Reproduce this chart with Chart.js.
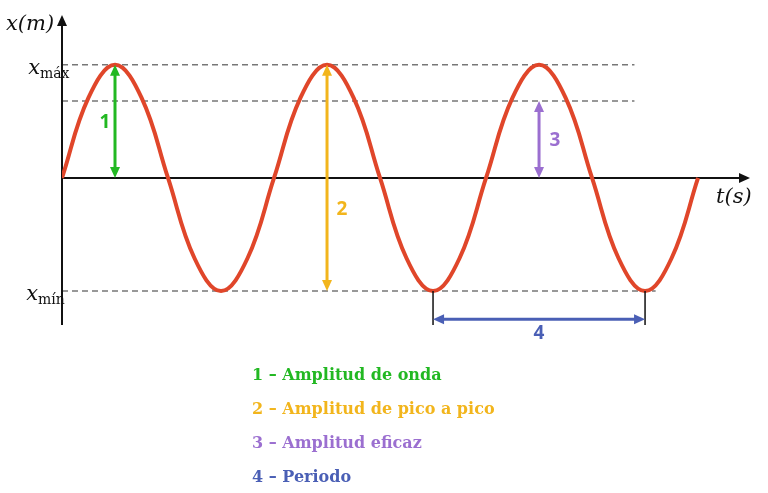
<!DOCTYPE html>
<html>
<head>
<meta charset="utf-8">
<script src="https://cdn.jsdelivr.net/npm/chart.js@4"></script>
<style>
  body { margin: 0; background: #fff; }
  #wrap { position: relative; width: 768px; height: 493px; }
  #legend { position: absolute; left: 252px; top: 358px; font: bold 16px "DejaVu Serif", serif; line-height: 34px; }
</style>
</head>
<body>
<div id="wrap">
  <canvas id="chart" width="768" height="493"></canvas>
  <div id="legend">
    <div style="color:#22b822">1 – Amplitud de onda</div>
    <div style="color:#f2b51c">2 – Amplitud de pico a pico</div>
    <div style="color:#9b6fd0">3 – Amplitud eficaz</div>
    <div style="color:#4a5fb5">4 – Periodo</div>
  </div>
</div>
<script>
// wave samples every eighth of a period (x in quarter periods)
const times = [0,0.5,1,1.5,2,2.5,3,3.5,4,4.5,5,5.5,6,6.5,7,7.5,8,8.5,9,9.5,10,10.5,11,11.5,12];
const wave  = [0,0.71,1,0.71,0,-0.71,-1,-0.71,0,0.71,1,0.71,0,-0.71,-1,-0.71,0,0.71,1,0.71,0,-0.71,-1,-0.71,0];
const xMax = 1, xMin = -1, xRms = 0.68;
const amplitudeAt = 1, peakToPeakAt = 5, rmsAt = 9;
const periodFrom = 7, periodTo = 11;

const RED = "#e0462a", GREEN = "#22b822", YELLOW = "#f2b51c", PURPLE = "#9b6fd0", BLUE = "#4a5fb5";

function arrowHead(ctx, x, y, dx, dy, color) {
    const len = 11, w = 5;
    const px = -dy, py = dx;
    ctx.fillStyle = color;
    ctx.beginPath();
    ctx.moveTo(x, y);
    ctx.lineTo(x - dx * len + px * w, y - dy * len + py * w);
    ctx.lineTo(x - dx * len - px * w, y - dy * len - py * w);
    ctx.closePath();
    ctx.fill();
}

function doubleArrow(ctx, x1, y1, x2, y2, color) {
    const d = Math.hypot(x2 - x1, y2 - y1);
    const dx = (x2 - x1) / d, dy = (y2 - y1) / d;
    ctx.strokeStyle = color;
    ctx.lineWidth = 3;
    ctx.beginPath();
    ctx.moveTo(x1 + dx * 8, y1 + dy * 8);
    ctx.lineTo(x2 - dx * 8, y2 - dy * 8);
    ctx.stroke();
    arrowHead(ctx, x2, y2, dx, dy, color);
    arrowHead(ctx, x1, y1, -dx, -dy, color);
}

// ---------------- BACKGROUND: dashed guides + axes ----------------
const guides = {
    id: "guides",
    beforeDatasetsDraw(chart) {
        const ctx = chart.ctx, x = chart.scales.x, y = chart.scales.y;
        const x0 = x.getPixelForValue(0), y0 = y.getPixelForValue(0);
        ctx.save();
        ctx.strokeStyle = "#777";
        ctx.lineWidth = 1.5;
        ctx.setLineDash([6, 4]);
        [[xMax, 10.8], [xRms, 10.8], [xMin, 11.2]].forEach(([v, end]) => {
            ctx.beginPath();
            ctx.moveTo(x0, y.getPixelForValue(v));
            ctx.lineTo(x.getPixelForValue(end), y.getPixelForValue(v));
            ctx.stroke();
        });
        ctx.setLineDash([]);
        ctx.strokeStyle = "#111";
        ctx.lineWidth = 2;
        ctx.beginPath();
        ctx.moveTo(x0, chart.chartArea.bottom);
        ctx.lineTo(x0, chart.chartArea.top + 4);
        ctx.moveTo(x0, y0);
        ctx.lineTo(chart.chartArea.right - 4, y0);
        ctx.stroke();
        arrowHead(ctx, x0, chart.chartArea.top, 0, -1, "#111");
        arrowHead(ctx, chart.chartArea.right, y0, 1, 0, "#111");

        ctx.fillStyle = "#111";
        ctx.font = "italic 21px 'DejaVu Serif', serif";
        ctx.textBaseline = "alphabetic";
        ctx.textAlign = "left";
        ctx.fillText("x(m)", 6, 30);
        ctx.fillText("t(s)", 716, 203);
        ctx.textAlign = "right";
        ctx.fillText("x", 40, y.getPixelForValue(xMax) + 9);
        ctx.fillText("x", 38, y.getPixelForValue(xMin) + 9);
        ctx.font = "14px 'DejaVu Serif', serif";
        ctx.textAlign = "left";
        ctx.fillText("máx", 40, y.getPixelForValue(xMax) + 13);
        ctx.fillText("mín", 38, y.getPixelForValue(xMin) + 13);
        ctx.restore();
    },
    afterDatasetsDraw(chart) {
        const ctx = chart.ctx, x = chart.scales.x, y = chart.scales.y;
        const y0 = y.getPixelForValue(0);
        ctx.save();
        let ax = x.getPixelForValue(amplitudeAt);
        doubleArrow(ctx, ax, y0, ax, y.getPixelForValue(xMax), GREEN);
        ax = x.getPixelForValue(peakToPeakAt);
        doubleArrow(ctx, ax, y.getPixelForValue(xMin), ax, y.getPixelForValue(xMax), YELLOW);
        ax = x.getPixelForValue(rmsAt);
        doubleArrow(ctx, ax, y0, ax, y.getPixelForValue(xRms), PURPLE);

        const p1 = x.getPixelForValue(periodFrom), p2 = x.getPixelForValue(periodTo);
        const py = y.getPixelForValue(-1.25);
        ctx.strokeStyle = "#111";
        ctx.lineWidth = 1.5;
        ctx.beginPath();
        ctx.moveTo(p1, y.getPixelForValue(xMin));
        ctx.lineTo(p1, chart.chartArea.bottom);
        ctx.moveTo(p2, y.getPixelForValue(xMin));
        ctx.lineTo(p2, chart.chartArea.bottom);
        ctx.stroke();
        doubleArrow(ctx, p1, py, p2, py, BLUE);

        ctx.font = "bold 19px 'Noto Sans', sans-serif";
        ctx.textAlign = "center";
        ctx.textBaseline = "middle";
        ctx.fillStyle = GREEN;  ctx.fillText("1", 105, 123);
        ctx.fillStyle = YELLOW; ctx.fillText("2", 342, 210);
        ctx.fillStyle = PURPLE; ctx.fillText("3", 555, 141);
        ctx.fillStyle = BLUE;   ctx.fillText("4", (p1 + p2) / 2, 334);
        ctx.restore();
    }
};

new Chart(document.getElementById("chart"), {
    type: "line",
    data: {
        datasets: [{
            data: times.map((t, i) => ({ x: t, y: wave[i] })),
            borderColor: RED,
            borderWidth: 4,
            pointRadius: 0,
            tension: 0.4,
            fill: false
        }]
    },
    options: {
        responsive: false,
        animation: false,
        layout: { padding: { left: 62, right: 18, top: 15, bottom: 168 } },
        plugins: { legend: { display: false }, tooltip: { enabled: false } },
        scales: {
            x: { type: "linear", min: 0, max: 12.98, display: false },
            y: { min: -1.3, max: 1.44, display: false }
        }
    },
    plugins: [guides]
});
</script>
</body>
</html>
